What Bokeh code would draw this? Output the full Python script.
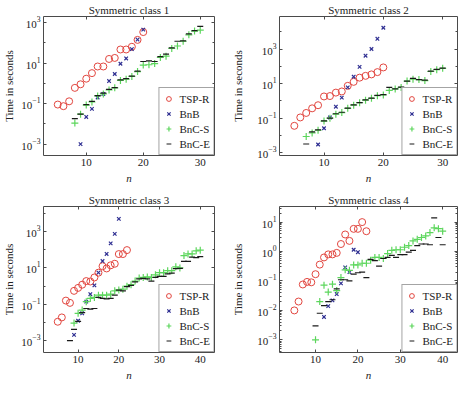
from bokeh.plotting import figure
from bokeh.models import Range1d, FixedTicker, LinearAxis, LogAxis
from bokeh.layouts import row, column
from bokeh.embed import file_html
from bokeh.resources import INLINE

# ---------------- data ----------------
titles = ["Symmetric class 1", "Symmetric class 2", "Symmetric class 3", "Symmetric class 4"]
series_names = ["TSP-R", "BnB", "BnC-S", "BnC-E"]

# class 1
c1_tsp_n = list(range(5, 21))
c1_tsp = [0.09, 0.075, 0.13, 0.6, 0.9, 1.7, 3.2, 6.8, 6.8, 16, 18, 47, 47, 64, 140, 340]
c1_bnb_n = list(range(9, 21))
c1_bnb = [0.001, 0.022, 0.055, 0.2, 0.3, 1.3, 2.9, 9.3, 17, 49, 145, 450]
c1_bncs_n = list(range(8, 31))
c1_bncs = [0.011, 0.03, 0.085, 0.12, 0.24, 0.3, 0.47, 0.6, 1.4, 1.6, 2.2, 3.8, 8, 8.3, 9.5,
           19, 22, 53, 70, 120, 250, 380, 420]
c1_bnce_n = list(range(8, 31))
c1_bnce = [0.018, 0.03, 0.09, 0.13, 0.25, 0.33, 0.5, 0.62, 1.5, 1.7, 2.3, 4.0, 12, 13, 12,
           21, 28, 56, 120, 125, 280, 400, 650]

# class 2
c2_tsp_n = list(range(5, 21))
c2_tsp = [0.036, 0.11, 0.2, 0.37, 0.56, 1.8, 1.9, 3.0, 3.5, 7.4, 12.6, 22, 28, 34, 46, 86]
c2_bnb_n = list(range(9, 21))
c2_bnb = [0.003, 0.026, 0.11, 0.46, 1.55, 6, 25, 93, 410, 1000, 3900, 17000]
c2_bncs_n = list(range(7, 31))
c2_bncs = [0.0087, 0.014, 0.02, 0.068, 0.1, 0.17, 0.21, 0.37, 0.56, 0.79, 1.1, 1.4, 2.0, 2.2,
           4.0, 4.9, 6.0, 14, 18, 17, 15, 50, 64, 76]
c2_bnce_n = list(range(7, 31))
c2_bnce = [0.0032, 0.016, 0.021, 0.07, 0.1, 0.18, 0.22, 0.38, 0.58, 0.8, 1.15, 1.45, 2.1, 2.3,
           6.0, 5.0, 6.2, 14, 20, 17, 16, 52, 66, 78]

# class 3
c3_tsp_n = list(range(5, 23))
c3_tsp = [0.011, 0.019, 0.16, 0.12, 0.55, 0.8, 1.2, 1.9, 1.8, 3.0, 5.5, 12.5, 9.4, 14, 17, 58, 58, 96]
c3_bnb_n = list(range(9, 21))
c3_bnb = [0.0021, 0.0125, 0.032, 0.14, 0.36, 1.1, 5.5, 24, 59, 224, 750, 5000]
c3_bncs_n = list(range(9, 41))
c3_bncs = [0.0093, 0.032, 0.048, 0.14, 0.21, 0.24, 0.32, 0.32, 0.32, 0.36, 0.55, 0.62, 0.68,
           1.0, 1.2, 1.9, 2.8, 3.0, 3.2, 3.0, 4.2, 5.5, 5.5, 7.1, 7.1, 11.5, 10, 48, 59, 59, 87, 95]
c3_bnce_n = list(range(8, 41))
c3_bnce = [0.001, 0.0042, 0.0115, 0.035, 0.059, 0.054, 0.059, 0.24, 0.21, 0.2, 0.21, 0.32, 0.6,
           0.55, 0.93, 1.1, 1.7, 2.5, 2.7, 2.5, 1.9, 3.0, 3.4, 3.4, 4.7, 5.2, 9.3, 9.5, 23, 23,
           39, 37, 42]

# class 4
c4_tsp_n = list(range(5, 23))
c4_tsp = [0.01, 0.02, 0.076, 0.093, 0.09, 0.17, 0.36, 0.63, 0.8, 0.8, 0.9, 1.8, 3.8, 2.3, 5.9, 5.9, 10, 4.9]
c4_bnb_n = list(range(12, 21))
c4_bnb = [0.006, 0.014, 0.022, 0.036, 0.083, 0.29, 0.2, 1.15, 0.95]
c4_bncs_n = list(range(10, 41))
c4_bncs = [0.001, 0.02, 0.072, 0.042, 0.078, 0.047, 0.13, 0.24, 0.23, 0.35, 0.35, 0.4, 0.4, 0.51,
           0.63, 0.63, 0.58, 0.85, 1.1, 1.15, 1.15, 1.4, 1.6, 2.3, 2.6, 3.0, 3.4, 4.4, 6.4, 6.0, 4.9]
c4_bnce_n = list(range(10, 41))
c4_bnce = [0.003, 0.008, 0.0145, 0.02, 0.023, 0.054, 0.11, 0.11, 0.1, 0.17, 0.19, 0.2, 0.13, 0.54,
           0.49, 0.32, 0.58, 0.63, 0.74, 0.63, 0.79, 0.79, 0.95, 1.1, 1.6, 1.8, 1.8, 1.7, 14, 3.0, 1.7]

x_ticks_30 = [10, 20, 30]
x_ticks_40 = [10, 20, 30, 40]
y_ticks_a = [1e-3, 1e-1, 1e1, 1e3]
y_minor_a = [1e-2, 1e0, 1e2, 1e4]
y_ticks_b = [1e-3, 1e-2, 1e-1, 1e0, 1e1]
y_minor_b = [m * 10.0 ** k for k in range(-4, 2) for m in range(2, 10)]

# ---------------- style ----------------
FONT = "Liberation Serif"
RED = "#e2463f"
BLUE = "#2f2f92"
GREEN = "#5cd65c"
BLACK = "#1a1a1a"
FRAME = "#4a4a4a"
TEXT = "#222222"


def style_ticks(ax):
    ax.axis_line_color = None
    ax.major_tick_in = 3
    ax.major_tick_out = 0
    ax.major_tick_line_color = FRAME
    ax.minor_tick_in = 2
    ax.minor_tick_out = 0
    ax.minor_tick_line_color = FRAME


def panel(title, data, xr, yr, xt, yt, ym, width, height, bl, br, bt, bb, ylab_standoff):
    p = figure(width=width, height=height, title=title,
               x_range=Range1d(*xr), y_range=Range1d(*yr), y_axis_type="log",
               output_backend="svg", toolbar_location=None,
               min_border_left=bl, min_border_right=br, min_border_top=bt, min_border_bottom=bb)
    (tn, tv), (bn, bv), (sn, sv), (en, ev) = data
    p.scatter(tn, tv, marker="circle", size=7, fill_color=None, line_color=RED,
              line_width=1, legend_label=series_names[0])
    p.scatter(bn, bv, marker="x", size=5, line_color=BLUE, line_width=1.2,
              legend_label=series_names[1])
    p.scatter(sn, sv, marker="cross", size=7, line_color=GREEN, line_width=1.2,
              legend_label=series_names[2])
    p.scatter(en, ev, marker="dash", size=6, line_color=BLACK, line_width=1.2,
              legend_label=series_names[3])

    p.title.align = "center"
    p.title.text_font = FONT
    p.title.text_font_size = "11px"
    p.title.text_font_style = "normal"
    p.title.text_color = TEXT
    p.title.standoff = 2

    p.xgrid.visible = False
    p.ygrid.visible = False
    p.outline_line_color = FRAME
    p.outline_line_width = 1
    p.outline_line_alpha = 1
    p.background_fill_color = "white"
    p.border_fill_color = "white"

    p.xaxis.ticker = FixedTicker(ticks=xt)
    p.yaxis.ticker = FixedTicker(ticks=yt, minor_ticks=ym)
    for ax in (p.xaxis[0], p.yaxis[0]):
        style_ticks(ax)
        ax.major_label_text_font = FONT
        ax.major_label_text_font_size = "11px"
        ax.major_label_text_color = TEXT
        ax.major_label_standoff = 3
        ax.axis_label_text_font = FONT
        ax.axis_label_text_font_size = "11px"
        ax.axis_label_text_color = TEXT
    p.xaxis.minor_tick_line_color = None
    p.xaxis.axis_label = "n"
    p.xaxis.axis_label_text_font_style = "italic"
    p.xaxis.axis_label_standoff = 3
    p.yaxis.axis_label = "Time in seconds"
    p.yaxis.axis_label_text_font_style = "normal"
    p.yaxis.axis_label_standoff = ylab_standoff

    # mirrored ticks on top and right (labels invisible)
    top = LinearAxis(ticker=FixedTicker(ticks=xt), major_label_text_font_size="1px",
                     major_label_text_alpha=0, major_label_standoff=0)
    style_ticks(top)
    top.minor_tick_line_color = None
    p.add_layout(top, "above")
    right = LogAxis(ticker=FixedTicker(ticks=yt, minor_ticks=ym), major_label_text_font_size="1px",
                    major_label_text_alpha=0, major_label_standoff=0)
    style_ticks(right)
    p.add_layout(right, "right")

    lg = p.legend[0]
    lg.location = "bottom_right"
    lg.margin = 0
    lg.padding = 3
    lg.spacing = 0
    lg.label_height = 15
    lg.glyph_height = 15
    lg.glyph_width = 12
    lg.label_standoff = 5
    lg.label_text_font = FONT
    lg.label_text_font_size = "11px"
    lg.label_text_color = TEXT
    lg.border_line_color = FRAME
    lg.border_line_width = 1
    lg.background_fill_alpha = 1
    return p


p1 = panel(titles[0], [(c1_tsp_n, c1_tsp), (c1_bnb_n, c1_bnb), (c1_bncs_n, c1_bncs), (c1_bnce_n, c1_bnce)],
           (2.5, 32.5), (10 ** -3.56, 10 ** 3.3), x_ticks_30, y_ticks_a, y_minor_a,
           225, 190, 30, 11, 4, 35, 3)
p2 = panel(titles[1], [(c2_tsp_n, c2_tsp), (c2_bnb_n, c2_bnb), (c2_bncs_n, c2_bncs), (c2_bnce_n, c2_bnce)],
           (2.5, 32.5), (10 ** -3.16, 10 ** 4.88), x_ticks_30, y_ticks_a, y_minor_a,
           233, 190, 54, 1, 4, 35, 10)
p3 = panel(titles[2], [(c3_tsp_n, c3_tsp), (c3_bnb_n, c3_bnb), (c3_bncs_n, c3_bncs), (c3_bnce_n, c3_bnce)],
           (1.5, 43.5), (10 ** -3.65, 10 ** 4.38), x_ticks_40, y_ticks_a, y_minor_a,
           225, 193, 30, 11, 4, 29, 3)
p4 = panel(titles[3], [(c4_tsp_n, c4_tsp), (c4_bnb_n, c4_bnb), (c4_bncs_n, c4_bncs), (c4_bnce_n, c4_bnce)],
           (1.5, 43.5), (10 ** -3.43, 10 ** 1.53), x_ticks_40, y_ticks_b, y_minor_b,
           233, 193, 54, 1, 4, 29, 10)

layout = column(row(p1, p2), row(p3, p4))
open("out.html", "w").write(file_html(layout, INLINE))
